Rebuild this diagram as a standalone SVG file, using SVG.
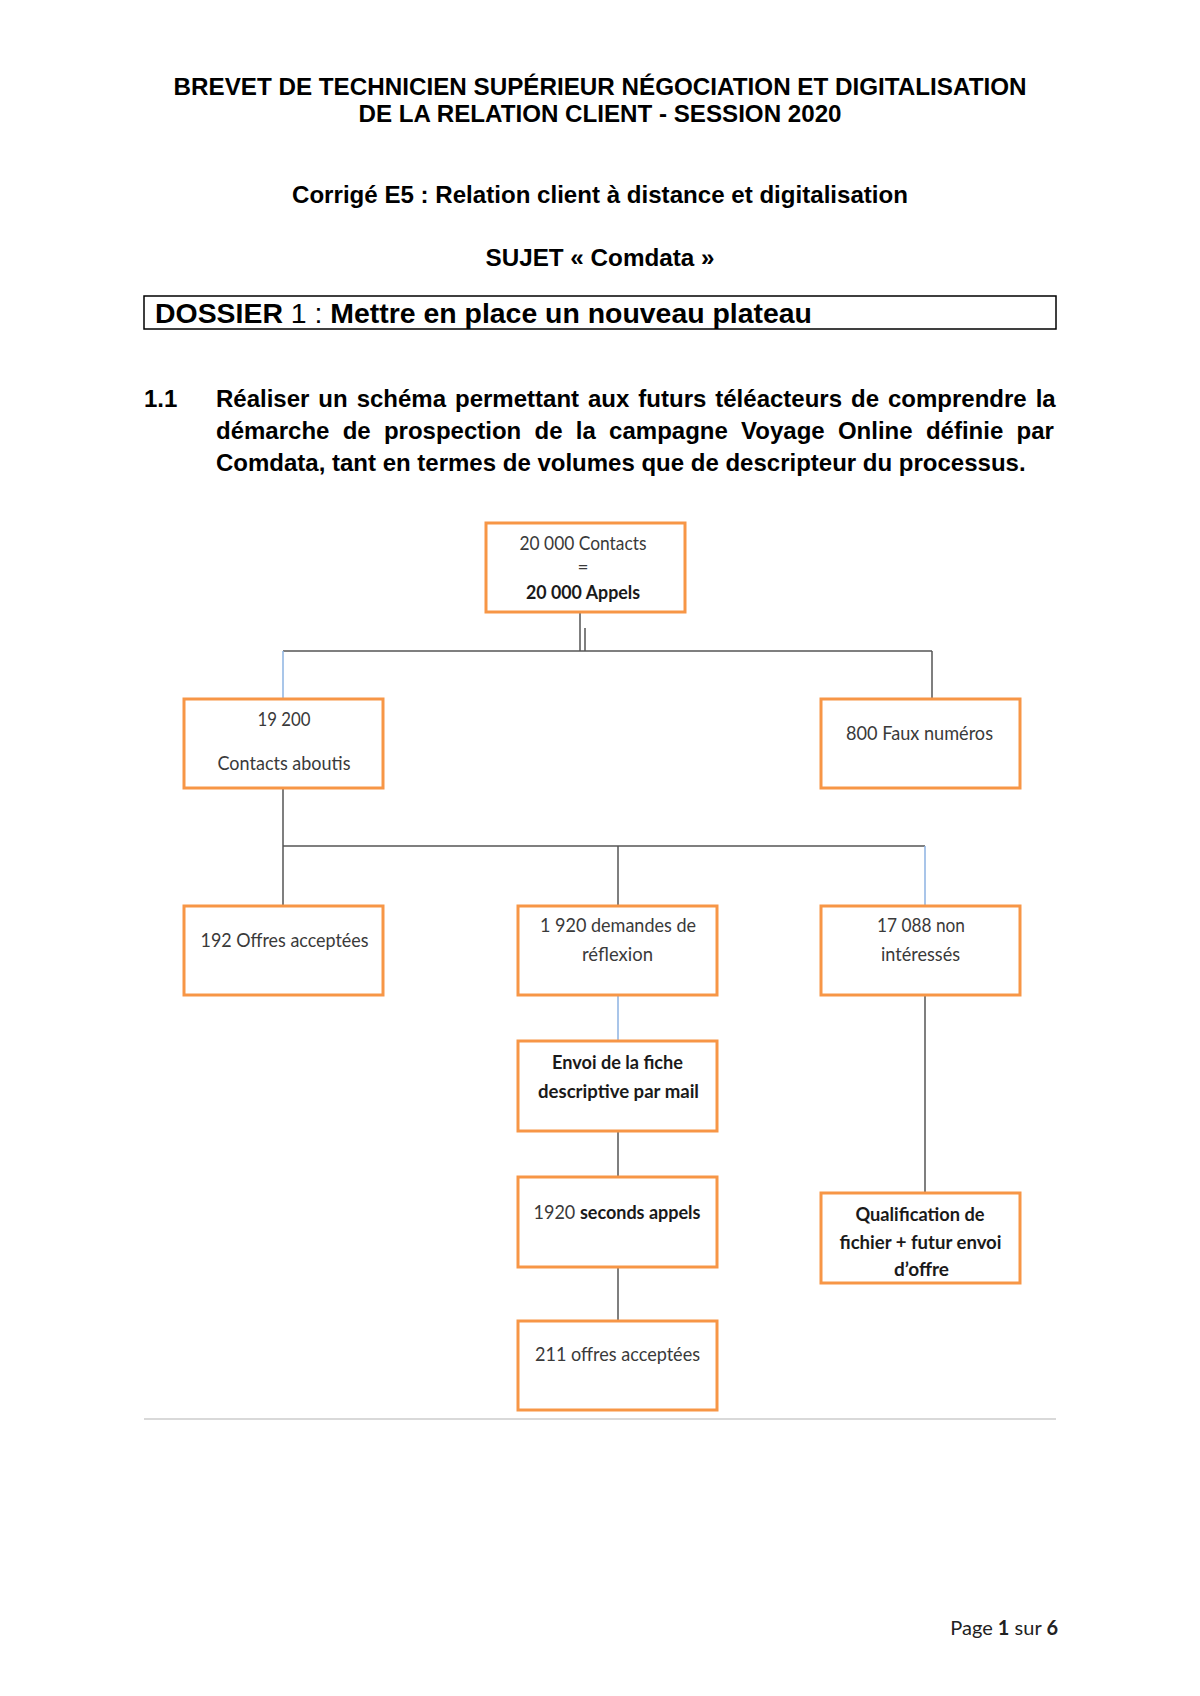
<svg xmlns="http://www.w3.org/2000/svg" width="1200" height="1696" viewBox="0 0 1200 1696">
<style>
.h{font-family:"Liberation Sans",Arial,sans-serif;font-weight:bold;fill:#000;}
.box{fill:#fff;stroke:#F79646;stroke-width:3;}
.t{font-family:Lato,"Noto Sans",sans-serif;font-size:19px;fill:#3a3a3a;text-anchor:middle;}
.b{font-weight:bold;fill:#1a1a1a;}
.c{fill:none;stroke:#555;stroke-width:1.5;}
.cb{fill:none;stroke:#8DB3E2;stroke-width:1.5;}
</style>
<rect width="1200" height="1696" fill="#fff"/>
<g id="header">
<text class="h" x="600" y="95" font-size="24" text-anchor="middle" textLength="853" lengthAdjust="spacingAndGlyphs">BREVET DE TECHNICIEN SUPÉRIEUR NÉGOCIATION ET DIGITALISATION</text>
<text class="h" x="600" y="122" font-size="24" text-anchor="middle" textLength="483" lengthAdjust="spacingAndGlyphs">DE LA RELATION CLIENT - SESSION 2020</text>
<text class="h" x="600" y="203" font-size="24" text-anchor="middle" textLength="616" lengthAdjust="spacingAndGlyphs">Corrigé E5 : Relation client à distance et digitalisation</text>
<text class="h" x="600" y="266" font-size="24" text-anchor="middle" textLength="229" lengthAdjust="spacingAndGlyphs">SUJET « Comdata »</text>
<rect x="144" y="296" width="912" height="33" fill="none" stroke="#000" stroke-width="1.5"/>
<text class="h" x="155" y="323" font-size="28" textLength="657" lengthAdjust="spacingAndGlyphs">DOSSIER <tspan font-weight="normal">1 :</tspan> Mettre en place un nouveau plateau</text>
<text class="h" x="144" y="407" font-size="24">1.1</text>
<text class="h" x="216" y="407" font-size="24" word-spacing="2.3">Réaliser un schéma permettant aux futurs téléacteurs de comprendre la</text>
<text class="h" x="216" y="439" font-size="24" word-spacing="6.6">démarche de prospection de la campagne Voyage Online définie par</text>
<text class="h" x="216" y="471" font-size="24">Comdata, tant en termes de volumes que de descripteur du processus.</text>
</g>
<g id="connectors">
<path class="c" d="M580 612V651M585 628V651M283 651H932M932 651V699"/>
<path class="cb" d="M283 651V699"/>
<path class="c" d="M283 788V905M283 846H925M618 846V905"/>
<path class="cb" d="M925 846V905M618 995V1040"/>
<path class="c" d="M618 1131V1177M618 1267V1320M925 995V1193"/>
</g>
<g id="n-contacts">
<rect class="box" x="486" y="523" width="199" height="89"/>
<text class="t" x="583" y="550" textLength="127" lengthAdjust="spacingAndGlyphs">20 000 Contacts</text>
<text class="t" x="583" y="574">=</text>
<text class="t b" x="583" y="599" textLength="114" lengthAdjust="spacingAndGlyphs">20 000 Appels</text>
</g>
<g id="n-aboutis">
<rect class="box" x="184" y="699" width="199" height="89"/>
<text class="t" x="284" y="726" textLength="53" lengthAdjust="spacingAndGlyphs">19 200</text>
<text class="t" x="284" y="770" textLength="133" lengthAdjust="spacingAndGlyphs">Contacts aboutis</text>
</g>
<g id="n-faux">
<rect class="box" x="821" y="699" width="199" height="89"/>
<text class="t" x="919.5" y="740" textLength="147" lengthAdjust="spacingAndGlyphs">800 Faux numéros</text>
</g>
<g id="n-offres192">
<rect class="box" x="184" y="906" width="199" height="89"/>
<text class="t" x="284.5" y="947" textLength="168" lengthAdjust="spacingAndGlyphs">192 Offres acceptées</text>
</g>
<g id="n-reflexion">
<rect class="box" x="518" y="906" width="199" height="89"/>
<text class="t" x="618" y="932" textLength="156" lengthAdjust="spacingAndGlyphs">1 920 demandes de</text>
<text class="t" x="617.5" y="961" textLength="71" lengthAdjust="spacingAndGlyphs">réflexion</text>
</g>
<g id="n-noninteresses">
<rect class="box" x="821" y="906" width="199" height="89"/>
<text class="t" x="921" y="932" textLength="88" lengthAdjust="spacingAndGlyphs">17 088 non</text>
<text class="t" x="920.5" y="961" textLength="79" lengthAdjust="spacingAndGlyphs">intéressés</text>
</g>
<g id="n-envoi">
<rect class="box" x="518" y="1041" width="199" height="90"/>
<text class="t b" x="617.5" y="1069" textLength="131" lengthAdjust="spacingAndGlyphs">Envoi de la fiche</text>
<text class="t b" x="618.5" y="1098" textLength="161" lengthAdjust="spacingAndGlyphs">descriptive par mail</text>
</g>
<g id="n-seconds">
<rect class="box" x="518" y="1177" width="199" height="90"/>
<text class="t" x="617" y="1219" textLength="167" lengthAdjust="spacingAndGlyphs">1920 <tspan class="b">seconds appels</tspan></text>
</g>
<g id="n-offres211">
<rect class="box" x="518" y="1321" width="199" height="89"/>
<text class="t" x="617.5" y="1361" textLength="165" lengthAdjust="spacingAndGlyphs">211 offres acceptées</text>
</g>
<g id="n-qualification">
<rect class="box" x="821" y="1193" width="199" height="90"/>
<text class="t b" x="920" y="1221" textLength="129" lengthAdjust="spacingAndGlyphs">Qualification de</text>
<text class="t b" x="920.5" y="1249" textLength="162" lengthAdjust="spacingAndGlyphs">fichier + futur envoi</text>
<text class="t b" x="921.5" y="1276" textLength="55" lengthAdjust="spacingAndGlyphs">d’offre</text>
</g>
<g id="footer">
<line x1="144" y1="1419" x2="1056" y2="1419" stroke="#D9D9D9" stroke-width="2"/>
<text x="1058" y="1635" font-family="Lato,'Noto Sans',sans-serif" font-size="20" fill="#222" text-anchor="end">Page <tspan font-weight="bold">1</tspan> sur <tspan font-weight="bold">6</tspan></text>
</g>
</svg>
